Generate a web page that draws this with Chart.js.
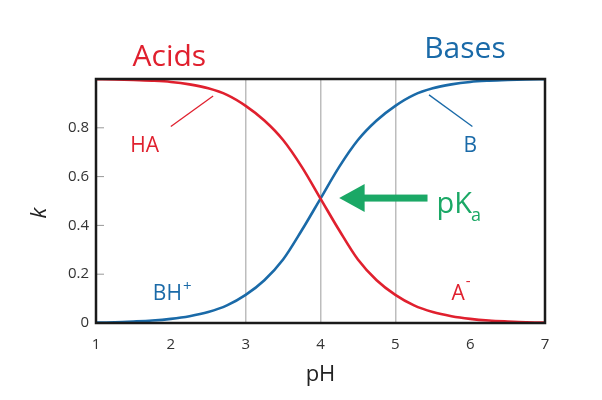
<!DOCTYPE html>
<html>
<head>
<meta charset="utf-8">
<script src="https://cdn.jsdelivr.net/npm/chart.js@4"></script>
<style>
  html, body { margin: 0; padding: 0; background: #fff; }
  #wrap { width: 602px; height: 400px; }
</style>
</head>
<body>
<div id="wrap"><canvas id="chart" width="602" height="400"></canvas></div>
<script>
// pH values and fractions
const phValues = [1, 1.25, 1.5, 1.75, 2, 2.25, 2.5, 2.75, 3, 3.25, 3.5, 3.75, 4,
  4.25, 4.5, 4.75, 5, 5.25, 5.5, 5.75, 6, 6.25, 6.5, 6.75, 7];
const acidHA = [0.999, 0.998, 0.996, 0.993, 0.988, 0.978, 0.962, 0.935, 0.89, 0.83, 0.75, 0.64, 0.51,
  0.38, 0.26, 0.175, 0.115, 0.072, 0.045, 0.028, 0.017, 0.01, 0.006, 0.003, 0.002];
const baseB = [0.002, 0.003, 0.006, 0.01, 0.017, 0.028, 0.045, 0.072, 0.115, 0.175, 0.26, 0.38, 0.51,
  0.64, 0.75, 0.83, 0.89, 0.935, 0.962, 0.978, 0.988, 0.993, 0.996, 0.998, 0.999];
const xTicks = [1, 2, 3, 4, 5, 6, 7];
const yTicks = [0, 0.2, 0.4, 0.6, 0.8];
const gridAt = [3, 4, 5];

const RED = "#e0202e";
const BLUE = "#1a6aa8";
const GREEN = "#1ba866";
const FONT = "'Open Sans', 'Noto Sans', sans-serif";

function toPoints(vals) {
  return phValues.map((p, i) => ({ x: p, y: vals[i] }));
}

// Draw frame, inner ticks and the labels/arrow
const annotations = {
  id: "annotations",
  afterDraw(chart) {
    const ctx = chart.ctx;
    const a = chart.chartArea;
    const xs = chart.scales.x;
    const ys = chart.scales.y;
    const X = (v) => xs.getPixelForValue(v);
    const Y = (v) => ys.getPixelForValue(v);

    ctx.save();
    // small ticks inside the left axis
    ctx.strokeStyle = "#999";
    ctx.lineWidth = 1;
    yTicks.forEach((t) => {
      if (t === 0) return;
      ctx.beginPath();
      ctx.moveTo(a.left, Y(t));
      ctx.lineTo(a.left + 8, Y(t));
      ctx.stroke();
    });

    // frame
    ctx.strokeStyle = "#1a1a1a";
    ctx.lineWidth = 2.5;
    ctx.strokeRect(a.left, a.top, a.right - a.left, a.bottom - a.top);

    ctx.textBaseline = "alphabetic";
    ctx.textAlign = "center";

    // titles
    ctx.fillStyle = RED;
    ctx.font = "30px " + FONT;
    ctx.fillText("Acids", X(1.98), Y(1.053));
    ctx.fillStyle = BLUE;
    ctx.fillText("Bases", X(5.93), Y(1.085));

    // curve labels
    ctx.font = "21px " + FONT;
    ctx.fillStyle = RED;
    ctx.fillText("HA", X(1.65), Y(0.7));
    ctx.fillStyle = BLUE;
    ctx.fillText("B", X(6.0), Y(0.7));

    ctx.textAlign = "left";
    ctx.fillStyle = BLUE;
    ctx.fillText("BH", X(1.76), Y(0.094));
    const bh = ctx.measureText("BH").width;
    ctx.font = "15px " + FONT;
    ctx.fillText("+", X(1.76) + bh + 1, Y(0.13));
    ctx.font = "21px " + FONT;
    ctx.fillStyle = RED;
    ctx.fillText("A", X(5.75), Y(0.094));
    const aw = ctx.measureText("A").width;
    ctx.font = "15px " + FONT;
    ctx.fillText("-", X(5.75) + aw + 1, Y(0.15));

    // leader lines
    ctx.lineWidth = 1.3;
    ctx.strokeStyle = RED;
    ctx.beginPath();
    ctx.moveTo(X(2.0), Y(0.805));
    ctx.lineTo(X(2.565), Y(0.93));
    ctx.stroke();
    ctx.strokeStyle = BLUE;
    ctx.beginPath();
    ctx.moveTo(X(5.45), Y(0.935));
    ctx.lineTo(X(6.03), Y(0.805));
    ctx.stroke();

    // pKa arrow
    const ay = Y(0.512);
    const tip = X(4.25);
    const back = X(4.59);
    const end = X(5.43);
    ctx.fillStyle = GREEN;
    ctx.fillRect(back - 1, ay - 3.5, end - back + 1, 7);
    ctx.beginPath();
    ctx.moveTo(tip, ay);
    ctx.lineTo(back, ay - 14);
    ctx.lineTo(back, ay + 14);
    ctx.closePath();
    ctx.fill();

    ctx.textAlign = "left";
    ctx.font = "29px " + FONT;
    ctx.fillText("pK", X(5.55), Y(0.45));
    const w = ctx.measureText("pK").width;
    ctx.font = "18px " + FONT;
    ctx.fillText("a", X(5.55) + w - 1, Y(0.42));

    // axis titles
    ctx.fillStyle = "#222";
    ctx.font = "22px " + FONT;
    ctx.textAlign = "center";
    ctx.fillText("pH", X(4), a.bottom + 58);
    ctx.save();
    ctx.translate(a.left - 50, Y(0.45));
    ctx.rotate(-Math.PI / 2);
    ctx.font = "italic 22px " + FONT;
    ctx.fillText("k", 0, 0);
    ctx.restore();

    ctx.restore();
  },
};

new Chart(document.getElementById("chart"), {
  type: "line",
  data: {
    datasets: [
      {
        label: "HA",
        data: toPoints(acidHA),
        borderColor: RED,
        borderWidth: 2.6,
        pointRadius: 0,
        cubicInterpolationMode: "monotone",
      },
      {
        label: "B",
        data: toPoints(baseB),
        borderColor: BLUE,
        borderWidth: 2.6,
        pointRadius: 0,
        cubicInterpolationMode: "monotone",
      },
    ],
  },
  options: {
    responsive: false,
    animation: false,
    layout: { padding: { top: 79, right: 57, left: 0, bottom: 0 } },
    plugins: { legend: { display: false }, tooltip: { enabled: false } },
    scales: {
      x: {
        type: "linear",
        min: 1,
        max: 7,
        afterFit: (s) => { s.height = 77; },
        afterBuildTicks: (s) => { s.ticks = xTicks.map((v) => ({ value: v })); },
        border: { display: false },
        grid: {
          drawTicks: false,
          lineWidth: 1.5,
          color: (c) => (c.tick && gridAt.includes(c.tick.value) ? "#bdbdbd" : "rgba(0,0,0,0)"),
        },
        ticks: {
          padding: 13,
          color: "#333",
          font: { family: FONT, size: 15 },
          callback: (v) => String(v),
        },
      },
      y: {
        min: 0,
        max: 1,
        afterFit: (s) => { s.width = 96; },
        afterBuildTicks: (s) => { s.ticks = yTicks.map((v) => ({ value: v })); },
        border: { display: false },
        grid: { display: false, drawTicks: false },
        ticks: {
          padding: 7,
          color: "#333",
          font: { family: FONT, size: 15 },
          callback: (v) => (v === 0 ? "0" : v.toFixed(1)),
        },
      },
    },
  },
  plugins: [annotations],
});
</script>
</body>
</html>
